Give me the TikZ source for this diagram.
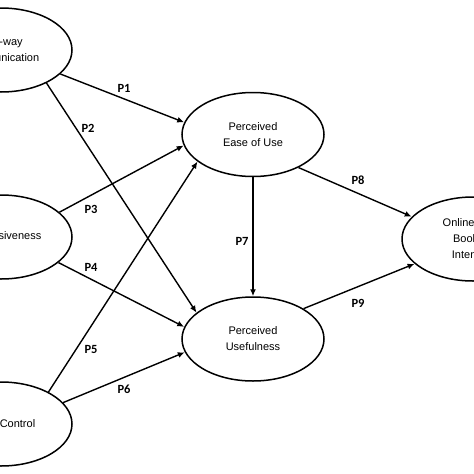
\documentclass[tikz,border=0pt]{standalone}
\usepackage{fontspec}
\setmainfont{Liberation Sans}
\newfontfamily\labfont{Carlito}
\usetikzlibrary{shapes.geometric,arrows.meta}
\tikzset{
  construct/.style={draw=black, line width=1.5pt, ellipse, minimum width=142pt, minimum height=84pt, inner sep=0pt, align=center, font=\fontsize{11}{16}\selectfont},
  path/.style={draw=black, line width=1.4pt, -{Latex[length=7pt,width=6pt]}},
  plabel/.style={font=\labfont\bfseries\fontsize{12.5}{14}\selectfont, inner sep=0pt}
}
\begin{document}
\begin{tikzpicture}[x=1pt,y=-1pt]
\useasboundingbox (0,0) rectangle (474,474);
\clip (0,0) rectangle (474,474);
\fill[white] (0,0) rectangle (474,474);
\node[construct] (twc) at (1,50) {Two-way\\Communication};
\node[construct] (res) at (1,237) {Responsiveness};
\node[construct] (act) at (1,424) {Active Control};
\node[construct] (peou) at (253,134.5) {Perceived\\Ease of Use};
\node[construct] (pu) at (253,339) {Perceived\\Usefulness};
\node[construct] (obi) at (473,239) {Online Hotel\\Booking\\Intention};

\draw[path] (twc.338) -- (peou.170.5);
\draw[path] (twc.324) -- (pu.155.8);
\draw[path] (res.23.3) -- (peou.189.5);
\draw[path] (res.336.7) -- (pu.170.4);
\draw[path] (act.34.2) -- (peou.206.6);
\draw[path] (act.19.5) -- (pu.191.3);
\draw[path] (peou.south) -- (pu.north);
\draw[path] (peou.324) -- (obi.160.2);
\draw[path] (pu.31.8) -- (obi.203.1);

\node[plabel] (l1) at (124,88) {P1};
\node[plabel] (l2) at (88,128.5) {P2};
\node[plabel] (l3) at (91,209.5) {P3};
\node[plabel] (l4) at (91,267) {P4};
\node[plabel] (l5) at (91,349.5) {P5};
\node[plabel] (l6) at (124,389.5) {P6};
\node[plabel] (l7) at (242,241) {P7};
\node[plabel] (l8) at (358,180) {P8};
\node[plabel] (l9) at (358,303) {P9};
\end{tikzpicture}
\end{document}
